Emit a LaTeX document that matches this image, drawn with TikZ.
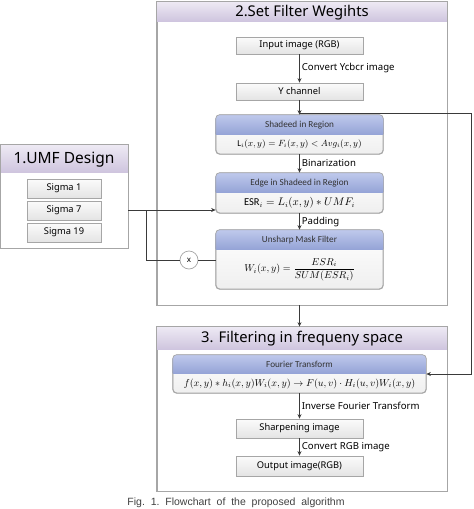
\documentclass[tikz,border=0pt]{standalone}
\usepackage{amsmath}
\usepackage{fontspec}
\setmainfont{Carlito}
\newfontfamily\titlefont{Noto Sans}
\newfontfamily\boxfont{Noto Sans}
\newfontfamily\capfont{Liberation Sans}
\usetikzlibrary{arrows.meta,calc}
\definecolor{edgegray}{HTML}{A6A6A6}
\definecolor{linec}{HTML}{3A3A3A}
\definecolor{titletop}{HTML}{EEEAF4}
\definecolor{titlebot}{HTML}{CEC4DE}
\definecolor{hdrtop}{HTML}{BFC9EC}
\definecolor{hdrbot}{HTML}{94A3D6}
\definecolor{boxtop}{HTML}{FBFBFB}
\definecolor{boxbot}{HTML}{E4E4E4}
\tikzset{
  panel/.style={draw=edgegray, line width=0.8pt, fill=white, inner sep=0pt},
  gbox/.style={draw=edgegray, line width=0.7pt, top color=boxtop, bottom color=boxbot, inner sep=0pt, font=\boxfont\fontsize{9.3}{11}\selectfont},
  fbox/.style={draw=edgegray, line width=0.7pt, rounded corners=4pt, top color=white, bottom color=boxbot!60, inner sep=0pt},
  hdrtxt/.style={font=\fontsize{9.2}{11}\selectfont, text=black!80, inner sep=0pt},
  ttl/.style={font=\titlefont\fontsize{14.8}{17}\selectfont, inner sep=0pt},
  arr/.style={draw=linec, line width=0.8pt, -{Stealth[length=4.5pt,width=4pt]}},
  ln/.style={draw=linec, line width=0.8pt},
  lbl/.style={right, inner sep=2pt, font=\boxfont\fontsize{9.6}{11}\selectfont},
}
\begin{document}
\begin{tikzpicture}[x=1pt,y=-1pt]
\useasboundingbox (0,0) rectangle (474,509);
% ---------- panels ----------
\node[panel, minimum width=290, minimum height=303] (p2) at (302,153.5) {};
\shade[top color=titletop, bottom color=titlebot] (p2.north west) rectangle ($(p2.north east)+(0,20)$);
\draw[edgegray, line width=0.8pt] (p2.north west) rectangle (p2.south east);
\node[ttl] (p2t) at (302,12.5) {2.Set Filter Wegihts};

\node[panel, minimum width=127.5, minimum height=103] (p1) at (64.25,196.5) {};
\shade[top color=titletop, bottom color=titlebot] (p1.north west) rectangle ($(p1.north east)+(0,28)$);
\draw[edgegray, line width=0.8pt] (p1.north west) rectangle (p1.south east);
\node[ttl, font=\titlefont\fontsize{15.5}{18}\selectfont] (p1t) at (64,159.5) {1.UMF Design};

\node[panel, minimum width=290, minimum height=164] (p3) at (302,409) {};
\shade[top color=titletop, bottom color=titlebot] (p3.north west) rectangle ($(p3.north east)+(0,23)$);
\draw[edgegray, line width=0.8pt] (p3.north west) rectangle (p3.south east);
\node[ttl] (p3t) at (302,339) {3. Filtering in frequeny space};

% ---------- panel 1 boxes ----------
\node[gbox, minimum width=74, minimum height=19] (s1) at (64,188.5) {Sigma 1};
\node[gbox, minimum width=74, minimum height=19] (s7) at (64,210.5) {Sigma 7};
\node[gbox, minimum width=74, minimum height=19] (s19) at (64,232.5) {Sigma 19};

% ---------- panel 2 boxes ----------
\node[gbox, minimum width=127, minimum height=17] (in1) at (299.5,45.5) {Input image (RGB)};
\node[gbox, minimum width=127, minimum height=17] (ych) at (299.5,91.5) {Y channel};

\node[fbox, minimum width=167, minimum height=39] (shd) at (299.5,134.5) {};
\begin{scope}
\clip[rounded corners=4pt] (shd.north west) rectangle (shd.south east);
\shade[top color=hdrtop, bottom color=hdrbot] (shd.north west) rectangle ($(shd.north east)+(0,20)$);
\end{scope}
\draw[edgegray, line width=0.7pt, rounded corners=4pt] (shd.north west) rectangle (shd.south east);
\node[hdrtxt] (shdT) at ($(shd.north)+(0,10)$) {Shadeed in Region};
\node[inner sep=0pt, font=\fontsize{9}{11}\selectfont] (shdF) at ($(shd.north)+(0,30)$) {$\mathrm{L}_i(x,y)=F_i(x,y)<Avg_i(x,y)$};

\node[fbox, minimum width=167, minimum height=40] (edg) at (299.5,193) {};
\begin{scope}
\clip[rounded corners=4pt] (edg.north west) rectangle (edg.south east);
\shade[top color=hdrtop, bottom color=hdrbot] (edg.north west) rectangle ($(edg.north east)+(0,20)$);
\end{scope}
\draw[edgegray, line width=0.7pt, rounded corners=4pt] (edg.north west) rectangle (edg.south east);
\node[hdrtxt] (edgT) at ($(edg.north)+(0,10)$) {Edge in Shadeed in Region};
\node[inner sep=0pt, font=\fontsize{10.5}{12}\selectfont] (edgF) at ($(edg.north)+(0,30)$) {$\mathrm{ESR}_i=L_i(x,y)\ast UMF_i$};

\node[fbox, minimum width=167, minimum height=59] (ums) at (299.5,259.5) {};
\begin{scope}
\clip[rounded corners=4pt] (ums.north west) rectangle (ums.south east);
\shade[top color=hdrtop, bottom color=hdrbot] (ums.north west) rectangle ($(ums.north east)+(0,20)$);
\end{scope}
\draw[edgegray, line width=0.7pt, rounded corners=4pt] (ums.north west) rectangle (ums.south east);
\node[hdrtxt] (umsT) at ($(ums.north)+(0,10)$) {Unsharp Mask Filter};
\node[inner sep=0pt, font=\fontsize{10}{12}\selectfont] (umsF) at ($(ums.north)+(0,40)$) {$W_i(x,y)=\dfrac{ESR_i}{SUM(ESR_i)}$};

% ---------- panel 3 boxes ----------
\node[fbox, minimum width=253, minimum height=38] (four) at (299.5,374) {};
\begin{scope}
\clip[rounded corners=4pt] (four.north west) rectangle (four.south east);
\shade[top color=hdrtop, bottom color=hdrbot] (four.north west) rectangle ($(four.north east)+(0,19)$);
\end{scope}
\draw[edgegray, line width=0.7pt, rounded corners=4pt] (four.north west) rectangle (four.south east);
\node[hdrtxt] (fourT) at ($(four.north)+(0,9.5)$) {Fourier Transform};
\node[inner sep=0pt, font=\fontsize{10}{12}\selectfont] (fourF) at ($(four.north)+(0,29)$) {$f(x,y)\ast h_i(x,y)W_i(x,y)\rightarrow F(u,v)\cdot H_i(u,v)W_i(x,y)$};

\node[gbox, minimum width=127, minimum height=19] (shp) at (299.5,428.5) {Sharpening image};
\node[gbox, minimum width=127, minimum height=20] (out) at (299.5,466) {Output image(RGB)};

% ---------- multiplier ----------
\node[circle, draw=edgegray, line width=0.7pt, fill=white, minimum size=18, inner sep=0pt, font=\boxfont\fontsize{8}{10}\selectfont] (cx) at (189,260) {x};

% ---------- connectors ----------
\draw[arr] (in1) -- node[lbl]{Convert Ycbcr image} (ych);
\draw[arr] (ych) -- (shd);
\draw[arr] (shd) -- node[lbl]{Binarization} (edg);
\draw[arr] (edg) -- node[lbl]{Padding} (ums);
\coordinate (r1) at (299.5,113);
\coordinate (r2) at (471,113);
\draw[arr] (r1) -- (r2) |- (four.east);
\coordinate (j1) at (146,210);
\draw[arr] (p1.east |- j1) -- (edg.west |- j1);
\draw[ln] (j1) |- (cx);
\draw[ln] (cx) -- (ums.west |- cx);
\draw[arr] (p2.south -| in1) -- (p3.north -| in1);
\draw[arr] (four) -- node[lbl]{Inverse Fourier Transform} (shp);
\draw[arr] (shp) -- node[lbl]{Convert RGB image} (out);

% ---------- caption ----------
\node[anchor=base, inner sep=0pt, font=\capfont\fontsize{10.5}{12}\selectfont, text=black!75] (cap) at (236,505.5) {Fig.\ \ 1.\ \ Flowchart\ \ of\ \ the\ \ proposed\ \ algorithm};
\end{tikzpicture}
\end{document}
